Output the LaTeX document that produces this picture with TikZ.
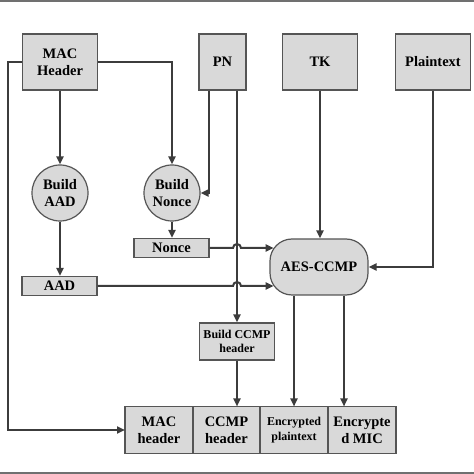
\documentclass[tikz,border=0pt]{standalone}
\usepackage{fontspec}
\setmainfont{Liberation Serif}
\usetikzlibrary{positioning, arrows.meta}

\definecolor{boxfill}{RGB}{217,217,217}
\definecolor{boxline}{RGB}{85,85,85}
\definecolor{wire}{RGB}{60,60,60}
\definecolor{barc}{RGB}{112,112,112}

\begin{document}
\begin{tikzpicture}
    [x=1pt, y=1pt,
     every node/.style={font=\fontsize{14.5}{17}\selectfont\bfseries, align=center, inner sep=0pt},
     smalltext/.style={font=\fontsize{12}{14.5}\selectfont\bfseries},
     block/.style={draw=boxline, line width=1.2pt, fill=boxfill, minimum width=75pt, minimum height=56pt},
     flat/.style={block, minimum height=19pt},
     field/.style={block, minimum width=68pt, minimum height=47pt, outer sep=0pt},
     builder/.style={circle, draw=boxline, line width=1.2pt, fill=boxfill, minimum size=56pt},
     cipher/.style={block, rounded corners=22pt, minimum width=98pt},
     wirearrow/.style={draw=wire, line width=2pt, -{Triangle[length=8pt, width=7pt]}}]

    \useasboundingbox (0,0) rectangle (474,474);
    \fill[barc] (0,472) rectangle (474,474);
    \fill[barc] (0,0) rectangle (474,2);

    % inputs
    \node[block] (machdr) at (60,412) {MAC\\Header};
    \node[block, minimum width=47pt] (pn) at (222.5,412) {PN};
    \node[block] (tk) at (320,412) {TK};
    \node[block] (plain) at (433,412) {Plaintext};

    \node[builder] (bldaad) at (60,281) {Build\\AAD};
    \node[builder] (bldnonce) at (172,281) {Build\\Nonce};

    \node[flat] (nonce) at (171.5,226) {Nonce};
    \node[flat] (aad) at (59.5,188) {AAD};

    \node[cipher] (aes) at (319,207) {AES-CCMP};
    \node[flat, minimum height=37pt, smalltext] (bldccmp) at (237,132.5) {Build CCMP\\header};

    % output frame
    \node[field] (outmac) at (159,44) {MAC\\header};
    \node[field, minimum width=67pt, right=0pt of outmac] (outccmp) {CCMP\\header};
    \node[field, smalltext, right=0pt of outccmp] (outtext) {Encrypted\\plaintext};
    \node[field, right=0pt of outtext] (outmic) {Encrypte\\d MIC};

    \draw[wirearrow] (machdr.south) -- (bldaad.north);
    \draw[wirearrow] (machdr.east) -| (bldnonce.north);
    \draw[wirearrow] (machdr.west) -- ++(-14,0) |- (outmac.west);
    \draw[wirearrow] ([xshift=-13.5pt]pn.south) |- (bldnonce.east);
    \draw[wirearrow] ([xshift=14.5pt]pn.south) -- (bldccmp.north);
    \draw[wirearrow] (bldaad.south) -- (aad.north -| bldaad.south);
    \draw[wirearrow] (bldnonce.south) -- (nonce.north -| bldnonce.south);

    \draw[wirearrow] (nonce.east) -- ([xshift=-4pt]bldccmp.north |- nonce.east)
        arc[start angle=180, end angle=0, radius=4pt] -- ([xshift=4.3pt]aes.west |- nonce.east);
    \draw[wirearrow] (aad.east) -- ([xshift=-4pt]bldccmp.north |- aad.east)
        arc[start angle=180, end angle=0, radius=4pt] -- ([xshift=4.3pt]aes.west |- aad.east);

    \draw[wirearrow] (tk.south) -- (tk.south |- aes.north);
    \draw[wirearrow] (plain.south) |- (aes.east);

    \draw[wirearrow] ([xshift=-25pt]aes.south) -- (outtext.north);
    \draw[wirearrow] ([xshift=25pt]aes.south) -- ([xshift=25pt]aes.south |- outmic.north);
    \draw[wirearrow] (bldccmp.south) -- (bldccmp.south |- outccmp.north);

\end{tikzpicture}
\end{document}
